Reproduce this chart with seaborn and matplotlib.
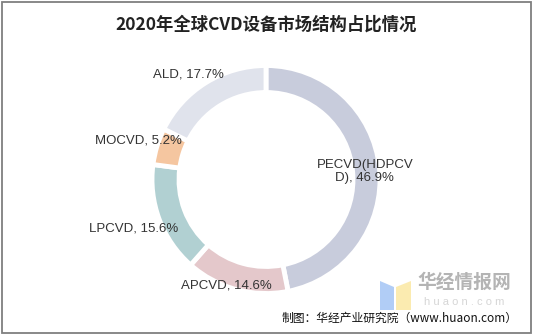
import numpy as np
import matplotlib
matplotlib.use("Agg")
import matplotlib.pyplot as plt
from matplotlib.patches import Polygon, Rectangle
import seaborn as sns

# Market share of CVD equipment types, 2020 (%)
categories = ["PECVD(HDPCV\nD)", "APCVD", "LPCVD", "MOCVD", "ALD"]
shares = [46.9, 14.6, 15.6, 5.2, 17.7]
colors = ["#c8ccdc", "#e4c8cb", "#b1d0d2", "#f5c6a0", "#e0e3ec"]
title = "2020年全球CVD设备市场结构占比情况"
source = "制图：华经产业研究院（www.huaon.com）"

sns.set_theme(style="white")
plt.rcParams["font.family"] = ["Liberation Sans", "Noto Sans CJK SC", "DejaVu Sans"]

W, H = 533, 335
fig = plt.figure(figsize=(W / 100, H / 100), dpi=100)
fig.patch.set_facecolor("white")

# outer frame
fig.add_artist(Rectangle((2 / W, 2 / H), (W - 4) / W, (H - 4) / H,
                         transform=fig.transFigure, fill=False,
                         edgecolor="#7f7f7f", linewidth=1.3))

# donut axes, centred on the ring
cx, cy, R = 266, 179.5, 114
ax = fig.add_axes([(cx - R) / W, (H - cy - R) / H, 2 * R / W, 2 * R / H])
wedges, _ = ax.pie(shares, colors=colors, startangle=90, counterclock=False,
                   radius=1.0,
                   wedgeprops=dict(width=0.237, edgecolor="white", linewidth=3.5))
ax.set_xlim(-1, 1)
ax.set_ylim(-1, 1)
ax.set_aspect("auto")
ax.axis("off")

# labels placed near each wedge's mid-angle (radius, angle nudge in degrees)
label_dist = [0.87, 0.99, 1.24, 1.17, 1.144]
label_nudge = [-1.0, -5.2, -0.4, -0.2, 4.8]
for w, name, val, d, nd in zip(wedges, categories, shares, label_dist, label_nudge):
    ang = np.deg2rad((w.theta1 + w.theta2) / 2 + nd)
    ax.text(d * np.cos(ang), d * np.sin(ang), f"{name}, {val}%",
            ha="center", va="center", fontsize=9.5, color="#333333",
            linespacing=1.05)

fig.text(0.5, 1 - 25 / H, title, ha="center", va="center",
         fontsize=12.5, fontweight="bold", color="#222222",
         family=["Noto Sans CJK SC", "DejaVu Sans"])

fig.text(518 / W, 1 - 318 / H, source, ha="right", va="center",
         fontsize=8.5, color="#111111",
         family=["Noto Sans CJK SC", "DejaVu Sans"])

# watermark logo
def px(x, y):
    return (x / W, 1 - y / H)

fig.add_artist(Polygon([px(380, 281), px(394, 287), px(394, 310), px(380, 310)],
                       closed=True, transform=fig.transFigure,
                       facecolor="#a9c8f5", edgecolor="none", alpha=0.9))
fig.add_artist(Polygon([px(396, 287), px(411, 281), px(411, 310), px(396, 310)],
                       closed=True, transform=fig.transFigure,
                       facecolor="#fbe9a8", edgecolor="none", alpha=0.9))
fig.text(464 / W, 1 - 282 / H, "华经情报网", ha="center", va="center",
         fontsize=13.5, fontweight="bold", color="#b4b4b4",
         family=["Noto Sans CJK SC", "DejaVu Sans"])
fig.text(464 / W, 1 - 302 / H, "h u a o n . c o m", ha="center", va="center",
         fontsize=8, color="#d6d6d6")

fig.savefig("out.png", dpi=100, facecolor="white")
